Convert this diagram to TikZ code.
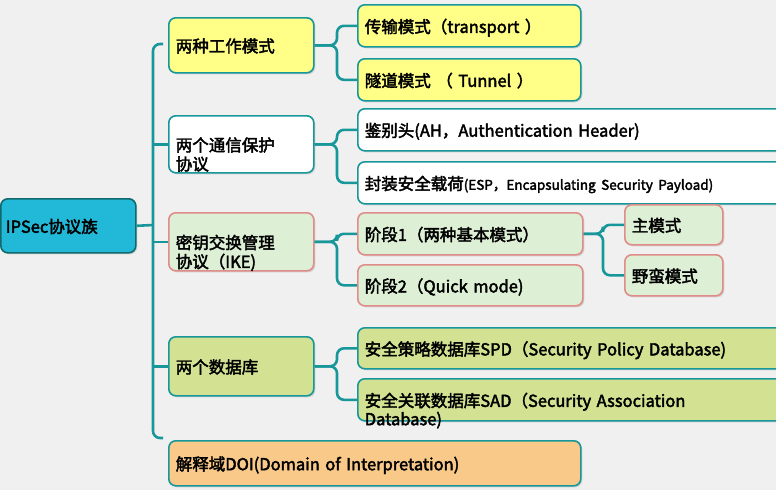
\documentclass[tikz,border=0pt]{standalone}
\usepackage{fontspec}
\setmainfont{Noto Sans CJK SC}[AutoFakeBold=2.5]
\usetikzlibrary{shadows}
\definecolor{bg}{HTML}{F0F0F0}
\definecolor{teal1}{HTML}{17979A}
\definecolor{pinkb}{HTML}{E08C88}
\definecolor{cy}{HTML}{22B8D8}
\definecolor{yel}{HTML}{FFFF88}
\definecolor{lgreen}{HTML}{DDEFD5}
\definecolor{olive}{HTML}{D3E292}
\definecolor{orng}{HTML}{F9C98A}
\begin{document}
\begin{tikzpicture}[x=1pt,y=-1pt,
  bx/.style={draw=teal1,line width=1.6pt,rounded corners=7pt,anchor=north west,align=left,
    inner sep=0pt,text depth=0pt,font=\bfseries\fontsize{16.5}{19}\selectfont,
    drop shadow={shadow xshift=1.5pt,shadow yshift=-1.5pt,opacity=0.25}},
  pk/.style={draw=pinkb},
  ln/.style={draw=teal1,line width=2.6pt,rounded corners=7pt}]
\fill[bg] (0,0) rectangle (776,490);
\useasboundingbox (0,0) rectangle (776,490);
% boxes
\node[bx,fill=cy,draw=teal1!70!black,minimum width=135pt,minimum height=54pt,text width=125pt] (root) at (0,198) {IPSec协议族};
\node[bx,fill=yel,minimum width=145pt,minimum height=55pt,text width=131pt] (m) at (168,17) {两种工作模式};
\node[bx,fill=yel,minimum width=223pt,minimum height=42pt,text width=209pt] (m1) at (357,4) {传输模式（transport ）};
\node[bx,fill=yel,minimum width=223pt,minimum height=42pt,text width=209pt] (m2) at (357,58) {隧道模式 （ Tunnel ）};
\node[bx,fill=white,minimum width=145pt,minimum height=57pt,text width=131pt] (p) at (168,115) {两个通信保护\\协议};
\node[bx,fill=white,minimum width=425pt,minimum height=42pt,text width=411pt] (p1) at (357,108) {鉴别头(AH，Authentication Header)};
\node[bx,fill=white,minimum width=425pt,minimum height=42pt,text width=411pt] (p2) at (357,161) {封装安全载荷{\fontsize{13.5}{16}\selectfont(ESP，Encapsulating Security Payload)}};
\node[bx,pk,fill=lgreen,minimum width=145pt,minimum height=58pt,text width=131pt] (k) at (168,212) {密钥交换管理\\协议（IKE)};
\node[bx,pk,fill=lgreen,minimum width=225pt,minimum height=42pt,text width=211pt] (k1) at (357,212) {阶段1（两种基本模式）};
\node[bx,pk,fill=lgreen,minimum width=225pt,minimum height=41pt,text width=211pt] (k2) at (357,264) {阶段2（Quick mode)};
\node[bx,pk,fill=lgreen,minimum width=98pt,minimum height=40pt,text width=84pt] (s1) at (624,204) {主模式};
\node[bx,pk,fill=lgreen,minimum width=98pt,minimum height=41pt,text width=84pt] (s2) at (624,254) {野蛮模式};
\node[bx,fill=olive,minimum width=145pt,minimum height=59pt,text width=131pt] (d) at (168,336) {两个数据库};
\node[bx,fill=olive,minimum width=425pt,minimum height=41pt,text width=411pt] (d1) at (357,327) {安全策略数据库SPD（Security Policy Database)};
\node[bx,fill=olive,minimum width=425pt,minimum height=42pt,text width=411pt,font=\bfseries\fontsize{16.5}{17}\selectfont] (d2) at (357,378) {安全关联数据库SAD（Security Association\\Database)};
\node[bx,fill=orng,minimum width=412pt,minimum height=45pt,text width=398pt] (doi) at (168,440) {解释域DOI(Domain of Interpretation)};
% trunk
\coordinate (tt) at (153,44);
\coordinate (tb) at (153,438);
\coordinate (tr) at (153,225);
\draw[ln] (163,44) -- (tt) -- (tb) -- (163,438);
\draw[ln,rounded corners=0] (root.east) -- (tr);
\foreach \n in {p,k,d} \draw[ln,rounded corners=0] (\n.west -| tt) -- (\n.west);
% braces
\foreach \pa/\mx/\ch in {m/337/m1,m/337/m2,p/337/p1,p/337/p2,k/337/k1,k/337/k2,d/337/d1,d/337/d2,k1/603/s1,k1/603/s2}
  \draw[ln] (\pa.east) -- (\mx,0 |- \pa.east) |- (\ch.west);
\end{tikzpicture}
\end{document}
